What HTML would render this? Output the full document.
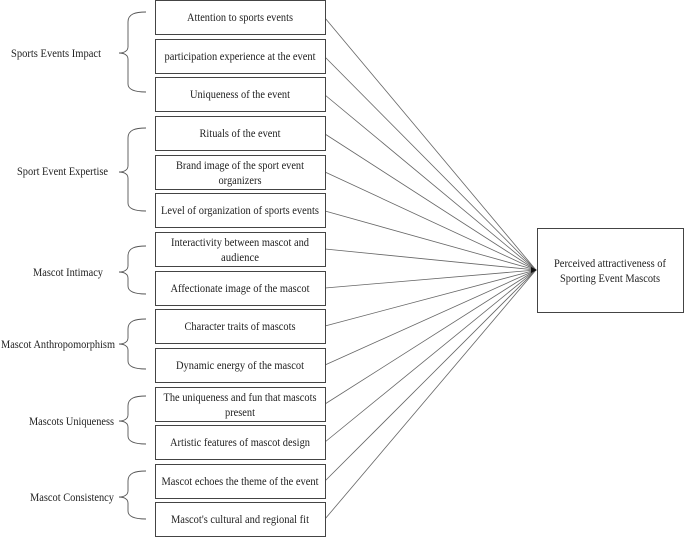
<!DOCTYPE html>
<html><head><meta charset="utf-8"><style>
html,body{margin:0;padding:0;background:#fff;}
svg{display:block;}
svg text{font-family:"Liberation Serif","Times New Roman","DejaVu Serif",serif;font-size:12px;fill:#222;}
</style></head><body>
<svg width="685" height="538" viewBox="0 0 685 538" xmlns="http://www.w3.org/2000/svg" font-family="Liberation Serif, DejaVu Serif, serif">
<g stroke="#666" stroke-width="0.8" fill="none">
<line x1="325" y1="18" x2="536" y2="270"/>
<line x1="325" y1="57" x2="536" y2="270"/>
<line x1="325" y1="95" x2="536" y2="270"/>
<line x1="325" y1="134" x2="536" y2="270"/>
<line x1="325" y1="172" x2="536" y2="270"/>
<line x1="325" y1="211" x2="536" y2="270"/>
<line x1="325" y1="249" x2="536" y2="270"/>
<line x1="325" y1="288" x2="536" y2="270"/>
<line x1="325" y1="326" x2="536" y2="270"/>
<line x1="325" y1="365" x2="536" y2="270"/>
<line x1="325" y1="404" x2="536" y2="270"/>
<line x1="325" y1="442" x2="536" y2="270"/>
<line x1="325" y1="481" x2="536" y2="270"/>
<line x1="325" y1="519" x2="536" y2="270"/>
</g>
<polygon points="531,267 537,270 531,273" fill="#111"/>
<g stroke="#444" stroke-width="1" fill="#fff">
<rect x="155.5" y="0.5" width="170" height="34"/>
<rect x="155.5" y="39.5" width="170" height="34"/>
<rect x="155.5" y="77.5" width="170" height="34"/>
<rect x="155.5" y="116.5" width="170" height="34"/>
<rect x="155.5" y="155.5" width="170" height="34"/>
<rect x="155.5" y="193.5" width="170" height="34"/>
<rect x="155.5" y="232.5" width="170" height="34"/>
<rect x="155.5" y="271.5" width="170" height="34"/>
<rect x="155.5" y="309.5" width="170" height="34"/>
<rect x="155.5" y="348.5" width="170" height="34"/>
<rect x="155.5" y="387.5" width="170" height="34"/>
<rect x="155.5" y="425.5" width="170" height="34"/>
<rect x="155.5" y="464.5" width="170" height="34"/>
<rect x="155.5" y="502.5" width="170" height="34"/>
<rect x="537.5" y="228.5" width="146" height="84"/>
</g>
<g stroke="#555" stroke-width="0.9" fill="none">
<path d="M146,12 C135,12 128,14 128,22 L128,47 C128,51 124,53 119,53 C124,53 128,55 128,59 L128,84 C128,90 135,92 146,92"/>
<path d="M146,128 C135,128 128,130 128,138 L128,166 C128,170 124,172 119,172 C124,172 128,174 128,178 L128,203 C128,209 135,211 146,211"/>
<path d="M146,246 C135,246 128,248 128,256 L128,266 C128,270 124,272 119,272 C124,272 128,274 128,278 L128,286 C128,292 135,294 146,294"/>
<path d="M146,319 C135,319 128,321 128,329 L128,338 C128,342 124,344 119,344 C124,344 128,346 128,350 L128,361 C128,367 135,369 146,369"/>
<path d="M146,396 C135,396 128,398 128,406 L128,415 C128,419 124,421 119,421 C124,421 128,423 128,427 L128,436 C128,442 135,444 146,444"/>
<path d="M146,471 C135,471 128,473 128,481 L128,491 C128,495 124,497 119,497 C124,497 128,499 128,503 L128,511 C128,517 135,519 146,519"/>
</g>
<g text-anchor="middle">
<text x="240" y="21" textLength="106" lengthAdjust="spacingAndGlyphs">Attention to sports events</text>
<text x="240" y="60" textLength="151" lengthAdjust="spacingAndGlyphs">participation experience at the event</text>
<text x="240" y="98" textLength="100" lengthAdjust="spacingAndGlyphs">Uniqueness of the event</text>
<text x="240" y="137" textLength="81" lengthAdjust="spacingAndGlyphs">Rituals of the event</text>
<text x="240" y="169" textLength="128" lengthAdjust="spacingAndGlyphs">Brand image of the sport event</text>
<text x="240" y="184" textLength="43" lengthAdjust="spacingAndGlyphs">organizers</text>
<text x="240" y="214" textLength="158" lengthAdjust="spacingAndGlyphs">Level of organization of sports events</text>
<text x="240" y="246" textLength="138" lengthAdjust="spacingAndGlyphs">Interactivity between mascot and</text>
<text x="240" y="261" textLength="38" lengthAdjust="spacingAndGlyphs">audience</text>
<text x="240" y="292" textLength="139" lengthAdjust="spacingAndGlyphs">Affectionate image of the mascot</text>
<text x="240" y="330" textLength="111" lengthAdjust="spacingAndGlyphs">Character traits of mascots</text>
<text x="240" y="369" textLength="128" lengthAdjust="spacingAndGlyphs">Dynamic energy of the mascot</text>
<text x="240" y="401" textLength="153" lengthAdjust="spacingAndGlyphs">The uniqueness and fun that mascots</text>
<text x="240" y="416" textLength="30" lengthAdjust="spacingAndGlyphs">present</text>
<text x="240" y="446" textLength="140" lengthAdjust="spacingAndGlyphs">Artistic features of mascot design</text>
<text x="240" y="485" textLength="157" lengthAdjust="spacingAndGlyphs">Mascot echoes the theme of the event</text>
<text x="240" y="523" textLength="138" lengthAdjust="spacingAndGlyphs">Mascot's cultural and regional fit</text>
<text x="610" y="267" textLength="112" lengthAdjust="spacingAndGlyphs">Perceived attractiveness of</text>
<text x="610" y="282" textLength="100" lengthAdjust="spacingAndGlyphs">Sporting Event Mascots</text>
</g>
<g>
<text x="11" y="57" textLength="90" lengthAdjust="spacingAndGlyphs">Sports Events Impact</text>
<text x="17" y="175" textLength="91" lengthAdjust="spacingAndGlyphs">Sport Event Expertise</text>
<text x="33" y="276" textLength="70" lengthAdjust="spacingAndGlyphs">Mascot Intimacy</text>
<text x="1" y="348" textLength="114" lengthAdjust="spacingAndGlyphs">Mascot Anthropomorphism</text>
<text x="29" y="425" textLength="85" lengthAdjust="spacingAndGlyphs">Mascots Uniqueness</text>
<text x="30" y="501" textLength="84" lengthAdjust="spacingAndGlyphs">Mascot Consistency</text>
</g>
</svg>
</body></html>
